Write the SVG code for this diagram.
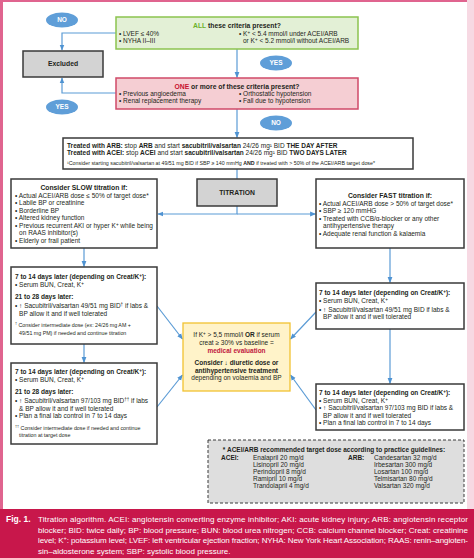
<svg xmlns="http://www.w3.org/2000/svg" width="474" height="558" viewBox="0 0 474 558">
<defs>
<style>
text{font-family:"Liberation Sans",Arial,Helvetica,sans-serif;fill:#231f20;font-size:6.5px}
.b{font-weight:bold}
.t{font-size:6.8px;font-weight:bold}
.c{text-anchor:middle}
.fn{font-size:5.3px}
.sup{font-size:70%;baseline-shift:super}
.box{fill:#fff;stroke:#3a3a3a;stroke-width:1.5}
.gray{fill:#d3d3d3;stroke:#3a3a3a;stroke-width:1.5}
.pill{fill:#5f9ed8}
.pt{fill:#fff;font-weight:bold;font-size:6.5px;text-anchor:middle}
.ln{fill:none;stroke:#5b9bd5;stroke-width:1.2}
.cap{fill:#fff;font-size:8px}
</style>
<marker id="ah" viewBox="0 0 10 10" refX="9" refY="5" markerWidth="6" markerHeight="6" markerUnits="userSpaceOnUse" orient="auto"><path d="M0,1 L10,5 L0,9 z" fill="#4f93d2"/></marker>
</defs>
<rect width="474" height="558" fill="#fff"/>
<rect x="0" y="0" width="3" height="510" fill="#e0648f"/>
<rect x="0" y="0" width="474" height="2" fill="#e0648f"/>
<rect x="467" y="0" width="7" height="510" fill="#f7d9e3"/>

<g id="connectors">
<path class="ln" d="M116,33 H62 V50" marker-end="url(#ah)"/>
<path class="ln" d="M237,49 V77.5" marker-end="url(#ah)"/>
<path class="ln" d="M116,93 H62 V78" marker-end="url(#ah)"/>
<path class="ln" d="M237,109 V137.5" marker-end="url(#ah)"/>
<path class="ln" d="M237,169 V179"/>
<path class="ln" d="M237,206 V214 H158" marker-end="url(#ah)"/>
<path class="ln" d="M237,214 H315.5" marker-end="url(#ah)"/>
<path class="ln" d="M84,248 V266.5" marker-end="url(#ah)"/>
<path class="ln" d="M390,248 V282.5" marker-end="url(#ah)"/>
<path class="ln" d="M84,344 V362.5" marker-end="url(#ah)"/>
<path class="ln" d="M390,329 V383.5" marker-end="url(#ah)"/>
<path class="ln" d="M157,306 L182.5,339" marker-end="url(#ah)"/>
<path class="ln" d="M157,407 L182.5,375" marker-end="url(#ah)"/>
<path class="ln" d="M316,312 L290.5,339" marker-end="url(#ah)"/>
<path class="ln" d="M316,410 L290.5,375" marker-end="url(#ah)"/>
</g>

<g id="label-no-1"><ellipse class="pill" cx="62" cy="20" rx="16" ry="7.5"/><text class="pt" x="62" y="22.3">NO</text></g>
<g id="label-yes-1"><ellipse class="pill" cx="276" cy="63" rx="16" ry="7.5"/><text class="pt" x="276" y="65.3">YES</text></g>
<g id="label-yes-2"><ellipse class="pill" cx="62" cy="107" rx="16" ry="7.5"/><text class="pt" x="62" y="109.3">YES</text></g>
<g id="label-no-2"><ellipse class="pill" cx="276" cy="123" rx="16" ry="7.5"/><text class="pt" x="276" y="125.3">NO</text></g>

<g id="all-criteria">
<rect x="116" y="17" width="242" height="32" fill="#e3f0d6" stroke="#8cc34f" stroke-width="1.5"/>
<text class="t c" x="237" y="27.5"><tspan fill="#6cb02a">ALL</tspan> these criteria present?</text>
<text x="119" y="36.3">• LVEF ≤ 40%</text>
<text x="119" y="43.3">• NYHA II–III</text>
<text x="239" y="36.3">• K<tspan class="sup">+</tspan> &lt; 5.4 mmol/l under ACEI/ARB</text>
<text x="243" y="43.3">or K<tspan class="sup">+</tspan> &lt; 5.2 mmol/l without ACEI/ARB</text>
</g>

<g id="excluded">
<rect class="gray" x="23" y="51" width="80" height="26"/>
<text class="t c" x="63" y="66.4">Excluded</text>
</g>

<g id="one-criteria">
<rect x="116" y="78" width="242" height="31" fill="#f5ced3" stroke="#cf4a68" stroke-width="1.5"/>
<text class="t c" x="237" y="88.5"><tspan fill="#c8102e">ONE</tspan> or more of these criteria present?</text>
<text x="119" y="95.8">• Previous angioedema</text>
<text x="119" y="103.3">• Renal replacement therapy</text>
<text x="239" y="95.8">• Orthostatic hypotension</text>
<text x="239" y="103.3">• Fall due to hypotension</text>
</g>

<g id="treated">
<rect class="box" x="63" y="138" width="350" height="31"/>
<text x="67" y="147.5"><tspan class="b">Treated with ARB:</tspan> stop <tspan class="b">ARB</tspan> and start <tspan class="b">sacubitril/valsartan</tspan> 24/26 mg¹ BID <tspan class="b">THE DAY AFTER</tspan></text>
<text x="67" y="155"><tspan class="b">Treated with ACEI:</tspan> stop <tspan class="b">ACEI</tspan> and start <tspan class="b">sacubitril/valsartan</tspan> 24/26 mg¹ BID <tspan class="b">TWO DAYS LATER</tspan></text>
<text class="fn" x="67" y="165">¹Consider starting sacubitril/valsartan at 49/51 mg BID if SBP ≥ 140 mmHg <tspan class="b">AND</tspan> if treated with &gt; 50% of the ACEI/ARB target dose*</text>
</g>

<g id="titration">
<rect class="gray" x="197" y="179" width="80" height="27"/>
<text class="t c" x="237" y="194.8">TITRATION</text>
</g>

<g id="slow">
<rect class="box" x="11" y="179" width="146" height="69"/>
<text class="t c" x="84" y="190.4">Consider SLOW titration if:</text>
<text x="15" y="197.8">• Actual ACEI/ARB dose ≤ 50% of target dose*</text>
<text x="15" y="205.3">• Labile BP or creatinine</text>
<text x="15" y="212.8">• Borderline BP</text>
<text x="15" y="220.3">• Altered kidney function</text>
<text x="15" y="227.8">• Previous recurrent AKI or hyper K<tspan class="sup">+</tspan> while being</text>
<text x="19.1" y="235.3">on RAAS inhibitor(s)</text>
<text x="15" y="242.8">• Elderly or frail patient</text>
</g>

<g id="fast">
<rect class="box" x="316" y="179" width="148" height="69"/>
<text class="t c" x="390" y="198.4">Consider FAST titration if:</text>
<text x="319" y="205.8">• Actual ACEI/ARB dose &gt; 50% of target dose*</text>
<text x="319" y="213.3">• SBP ≥ 120 mmHG</text>
<text x="319" y="220.8">• Treated with CCB/α-blocker or any other</text>
<text x="323.1" y="228.3">antihypertensive therapy</text>
<text x="319" y="235.8">• Adequate renal function &amp; kalaemia</text>
</g>

<g id="slow-step1">
<rect class="box" x="11" y="267" width="146" height="77"/>
<text class="b" x="15" y="279.3">7 to 14 days later (depending on Creat/K<tspan class="sup">+</tspan>):</text>
<text x="15" y="287.3">• Serum BUN, Creat, K<tspan class="sup">+</tspan></text>
<text class="b" x="15" y="299.3">21 to 28 days later:</text>
<text x="15" y="308.3">• ↑ Sacubitril/valsartan 49/51 mg BID<tspan class="sup">†</tspan> if labs &amp;</text>
<text x="19.1" y="315.8">BP allow it and if well tolerated</text>
<text class="fn" x="15" y="327.4"><tspan class="sup">†</tspan> Consider intermediate dose (ex: 24/26 mg AM +</text>
<text class="fn" x="19.1" y="334.9">49/51 mg PM) if needed and continue titration</text>
</g>

<g id="slow-step2">
<rect class="box" x="11" y="363" width="146" height="81"/>
<text class="b" x="15" y="374.3">7 to 14 days later (depending on Creat/K<tspan class="sup">+</tspan>):</text>
<text x="15" y="382.3">• Serum BUN, Creat, K<tspan class="sup">+</tspan></text>
<text class="b" x="15" y="394.3">21 to 28 days later:</text>
<text x="15" y="403.3">• ↑ Sacubitril/valsartan 97/103 mg BID<tspan class="sup">††</tspan> if labs</text>
<text x="19.1" y="410.8">&amp; BP allow it and if well tolerated</text>
<text x="15" y="418.3">• Plan a final lab control in 7 to 14 days</text>
<text class="fn" x="15" y="429.9"><tspan class="sup">††</tspan> Consider intermediate dose if needed and continue</text>
<text class="fn" x="19.1" y="437.4">titration at target dose</text>
</g>

<g id="fast-step1">
<rect class="box" x="316" y="283" width="148" height="46"/>
<text class="b" x="319" y="295.3">7 to 14 days later (depending on Creat/K<tspan class="sup">+</tspan>):</text>
<text x="319" y="303.3">• Serum BUN, Creat, K<tspan class="sup">+</tspan></text>
<text x="319" y="311.8">• ↑ Sacubitril/valsartan 49/51 mg BID if labs &amp;</text>
<text x="323.1" y="319.3">BP allow it and if well tolerated</text>
</g>

<g id="fast-step2">
<rect class="box" x="316" y="384" width="148" height="46"/>
<text class="b" x="319" y="395.3">7 to 14 days later (depending on Creat/K<tspan class="sup">+</tspan>):</text>
<text x="319" y="402.8">• Serum BUN, Creat, K<tspan class="sup">+</tspan></text>
<text x="319" y="410.3">• ↑ Sacubitril/valsartan 97/103 mg BID if labs &amp;</text>
<text x="323.1" y="417.8">BP allow it and if well tolerated</text>
<text x="319" y="425.3">• Plan a final lab control in 7 to 14 days</text>
</g>

<g id="medical-evaluation">
<rect x="183" y="323" width="107" height="68" fill="#fff3c9" stroke="#f1c232" stroke-width="1.3"/>
<text class="c" x="236.5" y="337.4">If K<tspan class="sup">+</tspan> &gt; 5,5 mmol/l <tspan class="b">OR</tspan> if serum</text>
<text class="c" x="236.5" y="345.4">creat ≥ 30% vs baseline =</text>
<text class="c b" x="236.5" y="353.4" fill="#c0163e" style="fill:#c0163e">medical evaluation</text>
<text class="c b" x="236.5" y="365.4">Consider ↓ diuretic dose or</text>
<text class="c b" x="236.5" y="372.9">antihypertensive treatment</text>
<text class="c" x="236.5" y="380.4">depending on volaemia and BP</text>
</g>

<g id="target-doses">
<rect x="208" y="440" width="256" height="63" fill="#dedede" stroke="#3a3a3a" stroke-width="1" stroke-dasharray="3,2"/>
<text class="b c" x="334" y="452.3">* ACEI/ARB recommended target dose according to practice guidelines:</text>
<text class="b" x="221" y="460.3">ACEI:</text>
<text x="253" y="460.3">Enalapril 20 mg/d</text>
<text x="253" y="467.3">Lisinopril 20 mg/d</text>
<text x="253" y="474.3">Perindopril 8 mg/d</text>
<text x="253" y="481.3">Ramipril 10 mg/d</text>
<text x="253" y="488.3">Trandolapril 4 mg/d</text>
<text class="b" x="348" y="460.3">ARB:</text>
<text x="374" y="460.3">Candesartan 32 mg/d</text>
<text x="374" y="467.3">Irbesartan 300 mg/d</text>
<text x="374" y="474.3">Losartan 100 mg/d</text>
<text x="374" y="481.3">Telmisartan 80 mg/d</text>
<text x="374" y="488.3">Valsartan 320 mg/d</text>
</g>

<g id="caption">
<rect x="0" y="509" width="474" height="49" fill="#c8174b"/>
<text class="cap b" x="6" y="522" style="fill:#fff;font-size:8.5px">Fig. 1.</text>
<text class="cap" x="38" y="522" textLength="430" lengthAdjust="spacing">Titration algorithm. ACEI: angiotensin converting enzyme inhibitor; AKI: acute kidney injury; ARB: angiotensin receptor</text>
<text class="cap" x="38" y="532.5" textLength="430" lengthAdjust="spacing">blocker; BID: twice daily; BP: blood pressure; BUN: blood urea nitrogen; CCB: calcium channel blocker; Creat: creatinine</text>
<text class="cap" x="38" y="543" textLength="430" lengthAdjust="spacing">level; K<tspan class="sup">+</tspan>: potassium level; LVEF: left ventricular ejection fraction; NYHA: New York Heart Association; RAAS: renin–angioten-</text>
<text class="cap" x="38" y="553.5">sin–aldosterone system; SBP: systolic blood pressure.</text>
</g>
</svg>
